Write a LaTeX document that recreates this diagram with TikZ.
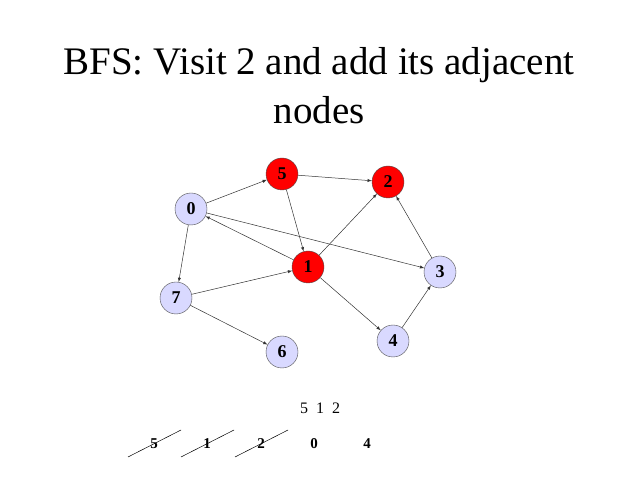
\documentclass[tikz,border=0pt]{standalone}
\usepackage{fontspec}
\setmainfont{Liberation Serif}
\begin{document}
\begin{tikzpicture}[x=1pt,y=-1pt,
 vert/.style={circle,draw=black!70,fill=blue!15,minimum size=32pt,inner sep=0pt,font=\fontsize{18}{20}\selectfont\bfseries},
 hot/.style={vert,fill=red},
 edge/.style={->,>=latex,draw=black!80,line width=0.5pt},
 lbl/.style={font=\fontsize{15}{17}\selectfont\bfseries}]
\useasboundingbox (0,0) rectangle (638,478);
\node (t1) at (319,65) {\fontsize{39}{42}\selectfont BFS: Visit 2 and add its adjacent};
\node (t2) at (319,110) {\fontsize{39}{42}\selectfont nodes};
\node[vert] (n0) at (191,209) {0};
\node[hot] (n5) at (282,174) {5};
\node[hot] (n2) at (388,182) {2};
\node[hot] (n1) at (308,267) {1};
\node[vert] (n3) at (440,272) {3};
\node[vert] (n7) at (176,298) {7};
\node[vert] (n4) at (393,341) {4};
\node[vert] (n6) at (282,352) {6};
\draw[edge] (n0) -- (n5);
\draw[edge] (n5) -- (n2);
\draw[edge] (n5) -- (n1);
\draw[edge] (n1) -- (n2);
\draw[edge] (n1) -- (n0);
\draw[edge] (n0) -- (n3);
\draw[edge] (n0) -- (n7);
\draw[edge] (n7) -- (n1);
\draw[edge] (n7) -- (n6);
\draw[edge] (n1) -- (n4);
\draw[edge] (n4) -- (n3);
\draw[edge] (n3) -- (n2);
\node (q) at (320,408) {\fontsize{16}{18}\selectfont 5\ \ 1\ \ 2};
\node[lbl] (b5) at (154,444) {5};
\node[lbl] (b1) at (207,444) {1};
\node[lbl] (b2) at (261,444) {2};
\node[lbl] (b0) at (314,444) {0};
\node[lbl] (b4) at (367,444) {4};
\foreach \n in {b5,b1,b2}{
 \draw[line width=0.5pt] ([shift={(-26,13)}]\n.center) -- ([shift={(27,-14)}]\n.center);}
\end{tikzpicture}
\end{document}
